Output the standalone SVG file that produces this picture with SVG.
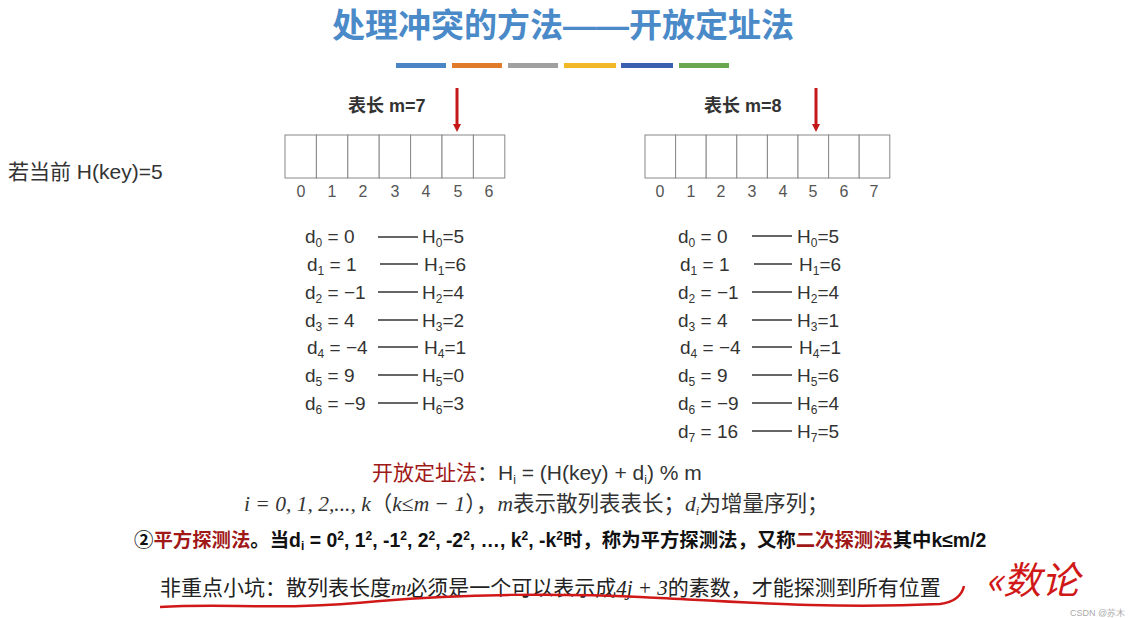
<svg xmlns="http://www.w3.org/2000/svg" width="1142" height="618" viewBox="0 0 1142 618">
<style>
.t{font-family:"Liberation Sans","Noto Sans CJK SC",sans-serif;fill:#333}
.r{font-size:19px}
.c{fill:#fff;stroke:#888;stroke-width:1}
.i{font-size:16px;fill:#555;text-anchor:middle}
.ln{stroke:#333;stroke-width:1.3}
.red{fill:#a01818}
.s{font-size:12px}
</style>
<defs><marker id="ah" markerWidth="8" markerHeight="8" refX="4" refY="4" orient="auto" markerUnits="userSpaceOnUse"><path d="M0,0L8,4L0,8z" fill="#c41818"/></marker></defs>
<rect width="1142" height="618" fill="#fff"/>
<text class="t" x="563" y="37" text-anchor="middle" font-size="33" font-weight="bold" style="fill:#4a8ac8">处理冲突的方法——开放定址法</text>
<g>
<rect x="396" y="63" width="50" height="5" fill="#4a86c6"/><rect x="452" y="63" width="50" height="5" fill="#e07b2a"/><rect x="508" y="63" width="50" height="5" fill="#a0a0a0"/><rect x="564" y="63" width="52" height="5" fill="#f2b82a"/><rect x="621" y="63" width="52" height="5" fill="#3a5fb0"/><rect x="679" y="63" width="50" height="5" fill="#6aa84f"/>
</g>
<text class="t" x="8" y="179" font-size="21">若当前 H(key)=5</text>
<g id="table7">
<text class="t" x="348" y="112" font-size="18" font-weight="bold">表长 m=7</text>
<g><rect class="c" x="285" y="135" width="31.4" height="43"/><rect class="c" x="316.4" y="135" width="31.4" height="43"/><rect class="c" x="347.8" y="135" width="31.4" height="43"/><rect class="c" x="379.2" y="135" width="31.4" height="43"/><rect class="c" x="410.6" y="135" width="31.4" height="43"/><rect class="c" x="442" y="135" width="31.4" height="43"/><rect class="c" x="473.4" y="135" width="31.4" height="43"/></g>
<g class="t i"><text x="301" y="197">0</text><text x="332" y="197">1</text><text x="363" y="197">2</text><text x="395" y="197">3</text><text x="426" y="197">4</text><text x="458" y="197">5</text><text x="489" y="197">6</text></g>
</g>
<g id="table8">
<text class="t" x="704" y="112" font-size="18" font-weight="bold">表长 m=8</text>
<g><rect class="c" x="645" y="135" width="30.6" height="43"/><rect class="c" x="675.6" y="135" width="30.6" height="43"/><rect class="c" x="706.2" y="135" width="30.6" height="43"/><rect class="c" x="736.8" y="135" width="30.6" height="43"/><rect class="c" x="767.4" y="135" width="30.6" height="43"/><rect class="c" x="798" y="135" width="30.6" height="43"/><rect class="c" x="828.6" y="135" width="30.6" height="43"/><rect class="c" x="859.2" y="135" width="30.6" height="43"/></g>
<g class="t i"><text x="660" y="197">0</text><text x="691" y="197">1</text><text x="721" y="197">2</text><text x="752" y="197">3</text><text x="783" y="197">4</text><text x="813" y="197">5</text><text x="844" y="197">6</text><text x="874" y="197">7</text></g>
</g>
<g id="connectors">
<line x1="457" y1="88" x2="457" y2="128" stroke="#c41818" stroke-width="3" marker-end="url(#ah)"/>
<line x1="816" y1="88" x2="816" y2="128" stroke="#c41818" stroke-width="3" marker-end="url(#ah)"/>
<g class="ln"><line x1="378" y1="237" x2="418" y2="237"/><line x1="380" y1="264" x2="418" y2="264"/><line x1="378" y1="292" x2="418" y2="292"/><line x1="378" y1="320" x2="418" y2="320"/><line x1="378" y1="347" x2="418" y2="347"/><line x1="378" y1="375" x2="418" y2="375"/><line x1="378" y1="403" x2="418" y2="403"/>
<line x1="752" y1="236" x2="792" y2="236"/><line x1="754" y1="264" x2="792" y2="264"/><line x1="752" y1="292" x2="792" y2="292"/><line x1="752" y1="320" x2="792" y2="320"/><line x1="752" y1="347" x2="792" y2="347"/><line x1="752" y1="375" x2="792" y2="375"/><line x1="752" y1="403" x2="792" y2="403"/><line x1="752" y1="431" x2="792" y2="431"/></g>
</g>
<g id="left-rows" class="t r">
<text x="305" y="243">d<tspan class="s" dy="4">0</tspan><tspan dy="-4"> = 0</tspan></text>
<text x="307" y="271">d<tspan class="s" dy="4">1</tspan><tspan dy="-4"> = 1</tspan></text>
<text x="305" y="299">d<tspan class="s" dy="4">2</tspan><tspan dy="-4"> = −1</tspan></text>
<text x="305" y="327">d<tspan class="s" dy="4">3</tspan><tspan dy="-4"> = 4</tspan></text>
<text x="307" y="354">d<tspan class="s" dy="4">4</tspan><tspan dy="-4"> = −4</tspan></text>
<text x="305" y="382">d<tspan class="s" dy="4">5</tspan><tspan dy="-4"> = 9</tspan></text>
<text x="305" y="410">d<tspan class="s" dy="4">6</tspan><tspan dy="-4"> = −9</tspan></text>
<text x="422" y="243">H<tspan class="s" dy="4">0</tspan><tspan dy="-4">=5</tspan></text>
<text x="424" y="271">H<tspan class="s" dy="4">1</tspan><tspan dy="-4">=6</tspan></text>
<text x="422" y="299">H<tspan class="s" dy="4">2</tspan><tspan dy="-4">=4</tspan></text>
<text x="422" y="327">H<tspan class="s" dy="4">3</tspan><tspan dy="-4">=2</tspan></text>
<text x="424" y="354">H<tspan class="s" dy="4">4</tspan><tspan dy="-4">=1</tspan></text>
<text x="422" y="382">H<tspan class="s" dy="4">5</tspan><tspan dy="-4">=0</tspan></text>
<text x="422" y="410">H<tspan class="s" dy="4">6</tspan><tspan dy="-4">=3</tspan></text>
</g>
<g id="right-rows" class="t r">
<text x="678" y="243">d<tspan class="s" dy="4">0</tspan><tspan dy="-4"> = 0</tspan></text>
<text x="680" y="271">d<tspan class="s" dy="4">1</tspan><tspan dy="-4"> = 1</tspan></text>
<text x="678" y="299">d<tspan class="s" dy="4">2</tspan><tspan dy="-4"> = −1</tspan></text>
<text x="678" y="327">d<tspan class="s" dy="4">3</tspan><tspan dy="-4"> = 4</tspan></text>
<text x="680" y="354">d<tspan class="s" dy="4">4</tspan><tspan dy="-4"> = −4</tspan></text>
<text x="678" y="382">d<tspan class="s" dy="4">5</tspan><tspan dy="-4"> = 9</tspan></text>
<text x="678" y="410">d<tspan class="s" dy="4">6</tspan><tspan dy="-4"> = −9</tspan></text>
<text x="678" y="438">d<tspan class="s" dy="4">7</tspan><tspan dy="-4"> = 16</tspan></text>
<text x="797" y="243">H<tspan class="s" dy="4">0</tspan><tspan dy="-4">=5</tspan></text>
<text x="799" y="271">H<tspan class="s" dy="4">1</tspan><tspan dy="-4">=6</tspan></text>
<text x="797" y="299">H<tspan class="s" dy="4">2</tspan><tspan dy="-4">=4</tspan></text>
<text x="797" y="327">H<tspan class="s" dy="4">3</tspan><tspan dy="-4">=1</tspan></text>
<text x="799" y="354">H<tspan class="s" dy="4">4</tspan><tspan dy="-4">=1</tspan></text>
<text x="797" y="382">H<tspan class="s" dy="4">5</tspan><tspan dy="-4">=6</tspan></text>
<text x="797" y="410">H<tspan class="s" dy="4">6</tspan><tspan dy="-4">=4</tspan></text>
<text x="797" y="438">H<tspan class="s" dy="4">7</tspan><tspan dy="-4">=5</tspan></text>
</g>
<g id="formula">
<text class="t" x="372" y="480" font-size="21"><tspan class="red">开放定址法</tspan>：H<tspan class="s" dy="4">i</tspan><tspan dy="-4"> = (H(key) + d</tspan><tspan class="s" dy="4">i</tspan><tspan dy="-4">) % m</tspan></text>
<text x="244" y="511" font-size="21.5" fill="#333" font-family="Liberation Serif,'Noto Sans CJK SC',serif"><tspan font-style="italic">i = 0, 1, 2,..., k</tspan>（<tspan font-style="italic">k</tspan>≤<tspan font-style="italic">m − 1</tspan>），<tspan font-style="italic">m</tspan>表示散列表表长；<tspan font-style="italic">d<tspan font-size="13" dy="4">i</tspan></tspan><tspan dy="-4">为增量序列；</tspan></text>
<text class="t" x="134" y="547" font-size="19.4" font-weight="bold" style="fill:#111">②<tspan class="red">平方探测法</tspan>。当d<tspan class="s" dy="3">i</tspan><tspan dy="-3"> = 0</tspan><tspan class="s" dy="-7">2</tspan><tspan dy="7">, 1</tspan><tspan class="s" dy="-7">2</tspan><tspan dy="7">, -1</tspan><tspan class="s" dy="-7">2</tspan><tspan dy="7">, 2</tspan><tspan class="s" dy="-7">2</tspan><tspan dy="7">, -2</tspan><tspan class="s" dy="-7">2</tspan><tspan dy="7">, …, k</tspan><tspan class="s" dy="-7">2</tspan><tspan dy="7">, -k</tspan><tspan class="s" dy="-7">2</tspan><tspan dy="7">时，称为平方探测法，又称</tspan><tspan class="red">二次探测法</tspan>其中k≤m/2</text>
<text x="160" y="595" font-size="21" fill="#222" font-family="'Liberation Sans','Noto Sans CJK SC',sans-serif">非重点小坑：散列表长度<tspan font-family="Liberation Serif" font-style="italic">m</tspan>必须是一个可以表示成<tspan font-family="Liberation Serif" font-style="italic">4j + 3</tspan>的素数，才能探测到所有位置</text>
</g>
<path d="M160,607 C230,603 280,611 380,601 C460,594 560,593 640,597 C740,602 830,609 940,604 C955,602 962,595 964,586" fill="none" stroke="#d01818" stroke-width="2.5"/>
<text x="985" y="594" font-size="38" fill="#d01818" font-family="'Noto Sans CJK SC',sans-serif" font-style="italic">«数论</text>
<text x="1070" y="616" font-size="9" fill="#aaa" font-family="Liberation Sans,sans-serif">CSDN @苏木</text>
</svg>
